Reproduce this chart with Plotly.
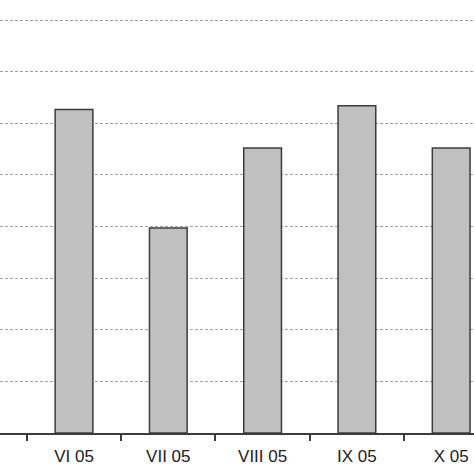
import plotly.graph_objects as go

months = ["VI 05", "VII 05", "VIII 05", "IX 05", "X 05"]
values = [6.27, 3.97, 5.52, 6.34, 5.52]

fig = go.Figure()
fig.add_trace(go.Bar(
    x=months,
    y=values,
    marker=dict(color="#c0c0c0", line=dict(color="#3c3c3c", width=1.5)),
    showlegend=False,
))

fig.update_layout(
    width=474,
    height=474,
    margin=dict(l=0, r=0, t=0, b=41),
    paper_bgcolor="white",
    plot_bgcolor="white",
    bargap=0.6,
    font=dict(family="Liberation Sans, Arial, sans-serif", size=17, color="#222222"),
)
fig.update_xaxes(
    type="category",
    range=[-0.785, 4.242],
    showline=True,
    linecolor="#3c3c3c",
    linewidth=1.5,
    ticks="outside",
    tickson="boundaries",
    ticklen=6,
    tickcolor="#3c3c3c",
    tickwidth=1.5,
    ticklabelstandoff=7,
    showgrid=False,
)
fig.update_yaxes(
    range=[0, 8.39],
    dtick=1,
    showgrid=True,
    gridcolor="#a0a0a0",
    gridwidth=1,
    griddash="3px,2px",
    showticklabels=False,
    zeroline=False,
    showline=False,
)

# page has a default 8px body margin, remove it so the chart fills the window
fig.write_html("out.html", config={"displayModeBar": False},
               post_script="document.body.style.margin='0';")
